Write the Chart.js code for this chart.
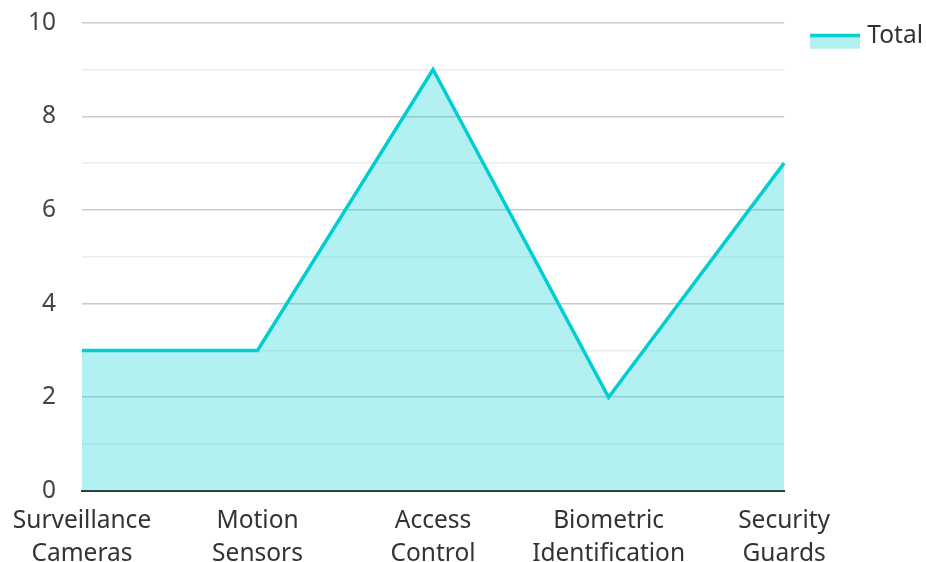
<!DOCTYPE html>
<html>
<head>
<meta charset="utf-8">
<script src="https://cdn.jsdelivr.net/npm/chart.js@4.4.1/dist/chart.umd.min.js"></script>
<style>
  body { margin: 0; background: #fff; }
  #wrap { width: 926px; height: 562px; }
</style>
</head>
<body>
<div id="wrap"><canvas id="myChart"></canvas></div>
<script>
const categories = [
  ["Surveillance", "Cameras"],
  ["Motion", "Sensors"],
  ["Access", "Control"],
  ["Biometric", "Identification"],
  ["Security", "Guards"]
];
const totals = [3, 3, 9, 2, 7];
const seriesName = "Total";

const lineColor = "#00CED1";
const fillColor = "rgba(0, 206, 209, 0.3)";

// legend swatch: fill with the line on top, shifted inside a transparent canvas
const swatch = document.createElement("canvas");
swatch.width = 73;
swatch.height = 31;
const sctx = swatch.getContext("2d");
sctx.fillStyle = fillColor;
sctx.fillRect(23, 13, 50, 15);
sctx.fillStyle = lineColor;
sctx.fillRect(23, 13, 50, 3.5);

Chart.defaults.font.family = "'Noto Sans', sans-serif";
Chart.defaults.font.size = 24.5;
Chart.defaults.color = "#444";

const ctx = document.getElementById("myChart").getContext("2d");
new Chart(ctx, {
  type: "line",
  data: {
    labels: categories,
    datasets: [{
      label: seriesName,
      data: totals,
      borderColor: lineColor,
      backgroundColor: fillColor,
      borderWidth: 3.5,
      fill: "origin",
      tension: 0,
      pointRadius: 0,
      pointHoverRadius: 0
    }]
  },
  options: {
    responsive: true,
    maintainAspectRatio: false,
    animation: false,
    layout: { padding: { top: 0, left: 0, right: -7, bottom: -14 } },
    plugins: {
      legend: {
        position: "right",
        align: "start",
        title: { display: true, text: " ", font: { size: 1, lineHeight: 1 }, padding: { top: 15, bottom: 0 } },
        labels: {
          usePointStyle: true,
          pointStyle: swatch,
          pointStyleWidth: 63,
          padding: 8,
          color: "#333"
        }
      },
      tooltip: { enabled: false }
    },
    scales: {
      x: {
        offset: false,
        grid: { display: false },
        border: { display: true, color: "#333", width: 2 },
        ticks: {
          maxRotation: 0,
          autoSkip: false,
          padding: 6,
          color: "#333",
          font: { lineHeight: 1.33 }
        }
      },
      y: {
        min: 0,
        max: 10,
        border: { display: false },
        afterFit: (scale) => { scale.width = 82; },
        grid: {
          drawTicks: true,
          tickLength: 18,
          tickColor: "rgba(0,0,0,0)",
          color: (c) => (c.tick && c.tick.value % 2 === 0 ? "#cacaca" : "#ececec"),
          lineWidth: 1.5
        },
        ticks: {
          stepSize: 1,
          padding: 8,
          color: "#444",
          callback: (v) => (v % 2 === 0 ? v : "")
        }
      }
    }
  }
});
</script>
</body>
</html>
